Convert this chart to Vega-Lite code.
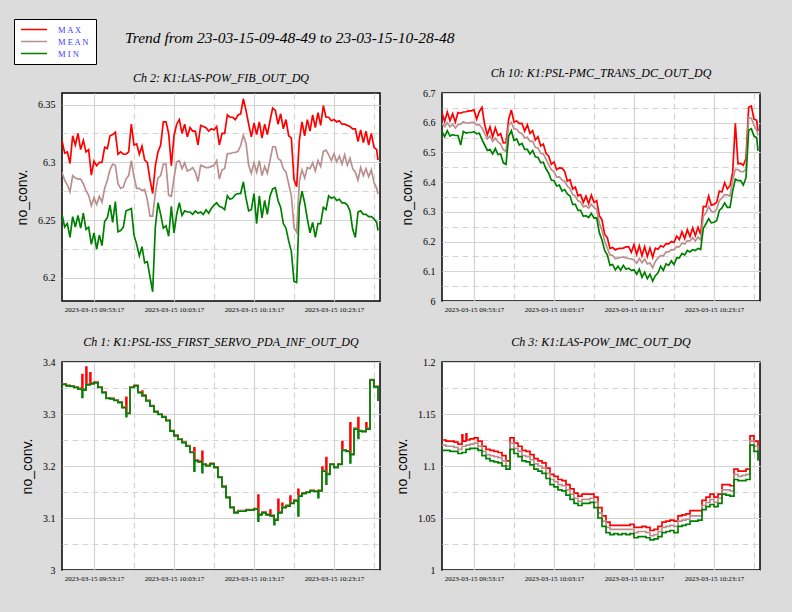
{
  "$schema": "https://vega.github.io/schema/vega-lite/v6.json",
  "background": "#dcdcdc",
  "padding": {"left": 13, "top": 18, "right": 32, "bottom": 47},
  "title": {
    "text": "Trend from 23-03-15-09-48-49 to 23-03-15-10-28-48",
    "fontSize": 15.5,
    "anchor": "start",
    "frame": "group",
    "dx": 63,
    "dy": 28,
    "offset": 0
  },
  "columns": 2,
  "spacing": {"row": 61, "column": 62},
  "bounds": "flush",
  "datasets": {
    "p1": [
      {"t":"2023-03-15T09:49:17","MAX":6.319,"MEAN":6.2915,"MIN":6.255},
      {"t":"2023-03-15T09:49:37","MAX":6.308,"MEAN":6.2845,"MIN":6.244},
      {"t":"2023-03-15T09:49:57","MAX":6.309,"MEAN":6.2805,"MIN":6.247},
      {"t":"2023-03-15T09:50:17","MAX":6.299,"MEAN":6.2745,"MIN":6.235},
      {"t":"2023-03-15T09:50:37","MAX":6.323,"MEAN":6.2885,"MIN":6.253},
      {"t":"2023-03-15T09:50:57","MAX":6.315,"MEAN":6.2865,"MIN":6.244},
      {"t":"2023-03-15T09:51:17","MAX":6.325,"MEAN":6.2855,"MIN":6.254},
      {"t":"2023-03-15T09:51:37","MAX":6.311,"MEAN":6.2855,"MIN":6.243},
      {"t":"2023-03-15T09:51:57","MAX":6.319,"MEAN":6.2815,"MIN":6.256},
      {"t":"2023-03-15T09:52:17","MAX":6.309,"MEAN":6.2755,"MIN":6.242},
      {"t":"2023-03-15T09:52:37","MAX":6.311,"MEAN":6.2715,"MIN":6.244},
      {"t":"2023-03-15T09:52:57","MAX":6.289,"MEAN":6.2625,"MIN":6.229},
      {"t":"2023-03-15T09:53:17","MAX":6.301,"MEAN":6.2695,"MIN":6.239},
      {"t":"2023-03-15T09:53:37","MAX":6.297,"MEAN":6.2635,"MIN":6.225},
      {"t":"2023-03-15T09:53:57","MAX":6.300,"MEAN":6.2705,"MIN":6.237},
      {"t":"2023-03-15T09:54:17","MAX":6.300,"MEAN":6.2655,"MIN":6.228},
      {"t":"2023-03-15T09:54:37","MAX":6.313,"MEAN":6.2775,"MIN":6.249},
      {"t":"2023-03-15T09:54:57","MAX":6.312,"MEAN":6.2845,"MIN":6.252},
      {"t":"2023-03-15T09:55:17","MAX":6.323,"MEAN":6.2935,"MIN":6.263},
      {"t":"2023-03-15T09:55:37","MAX":6.324,"MEAN":6.2985,"MIN":6.248},
      {"t":"2023-03-15T09:55:57","MAX":6.326,"MEAN":6.2975,"MIN":6.266},
      {"t":"2023-03-15T09:56:17","MAX":6.307,"MEAN":6.2815,"MIN":6.240},
      {"t":"2023-03-15T09:56:37","MAX":6.309,"MEAN":6.2775,"MIN":6.241},
      {"t":"2023-03-15T09:56:57","MAX":6.307,"MEAN":6.2785,"MIN":6.244},
      {"t":"2023-03-15T09:57:17","MAX":6.307,"MEAN":6.2855,"MIN":6.258},
      {"t":"2023-03-15T09:57:37","MAX":6.309,"MEAN":6.2885,"MIN":6.259},
      {"t":"2023-03-15T09:57:57","MAX":6.333,"MEAN":6.3015,"MIN":6.260},
      {"t":"2023-03-15T09:58:17","MAX":6.315,"MEAN":6.2875,"MIN":6.237},
      {"t":"2023-03-15T09:58:37","MAX":6.316,"MEAN":6.2775,"MIN":6.229},
      {"t":"2023-03-15T09:58:57","MAX":6.307,"MEAN":6.2775,"MIN":6.219},
      {"t":"2023-03-15T09:59:17","MAX":6.314,"MEAN":6.2755,"MIN":6.227},
      {"t":"2023-03-15T09:59:37","MAX":6.302,"MEAN":6.2765,"MIN":6.213},
      {"t":"2023-03-15T09:59:57","MAX":6.300,"MEAN":6.2675,"MIN":6.214},
      {"t":"2023-03-15T10:00:17","MAX":6.285,"MEAN":6.2535,"MIN":6.201},
      {"t":"2023-03-15T10:00:37","MAX":6.273,"MEAN":6.2535,"MIN":6.188},
      {"t":"2023-03-15T10:00:57","MAX":6.297,"MEAN":6.2735,"MIN":6.244},
      {"t":"2023-03-15T10:01:17","MAX":6.309,"MEAN":6.2865,"MIN":6.265},
      {"t":"2023-03-15T10:01:37","MAX":6.315,"MEAN":6.2885,"MIN":6.255},
      {"t":"2023-03-15T10:01:57","MAX":6.335,"MEAN":6.2985,"MIN":6.243},
      {"t":"2023-03-15T10:02:17","MAX":6.335,"MEAN":6.2985,"MIN":6.245},
      {"t":"2023-03-15T10:02:37","MAX":6.325,"MEAN":6.2715,"MIN":6.236},
      {"t":"2023-03-15T10:02:57","MAX":6.297,"MEAN":6.2705,"MIN":6.262},
      {"t":"2023-03-15T10:03:17","MAX":6.323,"MEAN":6.2865,"MIN":6.239},
      {"t":"2023-03-15T10:03:37","MAX":6.333,"MEAN":6.3005,"MIN":6.255},
      {"t":"2023-03-15T10:03:57","MAX":6.337,"MEAN":6.3015,"MIN":6.265},
      {"t":"2023-03-15T10:04:17","MAX":6.325,"MEAN":6.2945,"MIN":6.254},
      {"t":"2023-03-15T10:04:37","MAX":6.333,"MEAN":6.2995,"MIN":6.258},
      {"t":"2023-03-15T10:04:57","MAX":6.322,"MEAN":6.2925,"MIN":6.257},
      {"t":"2023-03-15T10:05:17","MAX":6.330,"MEAN":6.2935,"MIN":6.257},
      {"t":"2023-03-15T10:05:37","MAX":6.327,"MEAN":6.2955,"MIN":6.255},
      {"t":"2023-03-15T10:05:57","MAX":6.327,"MEAN":6.2915,"MIN":6.258},
      {"t":"2023-03-15T10:06:17","MAX":6.315,"MEAN":6.2835,"MIN":6.256},
      {"t":"2023-03-15T10:06:37","MAX":6.332,"MEAN":6.2975,"MIN":6.257},
      {"t":"2023-03-15T10:06:57","MAX":6.331,"MEAN":6.2965,"MIN":6.255},
      {"t":"2023-03-15T10:07:17","MAX":6.330,"MEAN":6.2955,"MIN":6.259},
      {"t":"2023-03-15T10:07:37","MAX":6.327,"MEAN":6.2955,"MIN":6.256},
      {"t":"2023-03-15T10:07:57","MAX":6.329,"MEAN":6.2965,"MIN":6.260},
      {"t":"2023-03-15T10:08:17","MAX":6.328,"MEAN":6.2975,"MIN":6.263},
      {"t":"2023-03-15T10:08:37","MAX":6.331,"MEAN":6.3015,"MIN":6.265},
      {"t":"2023-03-15T10:08:57","MAX":6.315,"MEAN":6.2855,"MIN":6.262},
      {"t":"2023-03-15T10:09:17","MAX":6.325,"MEAN":6.2935,"MIN":6.261},
      {"t":"2023-03-15T10:09:37","MAX":6.325,"MEAN":6.2945,"MIN":6.259},
      {"t":"2023-03-15T10:09:57","MAX":6.341,"MEAN":6.3075,"MIN":6.271},
      {"t":"2023-03-15T10:10:17","MAX":6.339,"MEAN":6.3075,"MIN":6.268},
      {"t":"2023-03-15T10:10:37","MAX":6.339,"MEAN":6.3085,"MIN":6.269},
      {"t":"2023-03-15T10:10:57","MAX":6.337,"MEAN":6.3085,"MIN":6.272},
      {"t":"2023-03-15T10:11:17","MAX":6.341,"MEAN":6.3095,"MIN":6.273},
      {"t":"2023-03-15T10:11:37","MAX":6.342,"MEAN":6.3145,"MIN":6.273},
      {"t":"2023-03-15T10:11:57","MAX":6.355,"MEAN":6.3235,"MIN":6.283},
      {"t":"2023-03-15T10:12:17","MAX":6.345,"MEAN":6.3165,"MIN":6.269},
      {"t":"2023-03-15T10:12:37","MAX":6.333,"MEAN":6.2975,"MIN":6.258},
      {"t":"2023-03-15T10:12:57","MAX":6.322,"MEAN":6.2905,"MIN":6.259},
      {"t":"2023-03-15T10:13:17","MAX":6.334,"MEAN":6.2995,"MIN":6.273},
      {"t":"2023-03-15T10:13:37","MAX":6.324,"MEAN":6.2915,"MIN":6.247},
      {"t":"2023-03-15T10:13:57","MAX":6.335,"MEAN":6.3015,"MIN":6.271},
      {"t":"2023-03-15T10:14:17","MAX":6.321,"MEAN":6.2885,"MIN":6.252},
      {"t":"2023-03-15T10:14:37","MAX":6.333,"MEAN":6.2965,"MIN":6.267},
      {"t":"2023-03-15T10:14:57","MAX":6.324,"MEAN":6.2905,"MIN":6.255},
      {"t":"2023-03-15T10:15:17","MAX":6.336,"MEAN":6.3015,"MIN":6.271},
      {"t":"2023-03-15T10:15:37","MAX":6.347,"MEAN":6.3135,"MIN":6.277},
      {"t":"2023-03-15T10:15:57","MAX":6.345,"MEAN":6.3135,"MIN":6.278},
      {"t":"2023-03-15T10:16:17","MAX":6.333,"MEAN":6.3035,"MIN":6.267},
      {"t":"2023-03-15T10:16:37","MAX":6.342,"MEAN":6.3015,"MIN":6.261},
      {"t":"2023-03-15T10:16:57","MAX":6.329,"MEAN":6.2945,"MIN":6.247},
      {"t":"2023-03-15T10:17:17","MAX":6.337,"MEAN":6.2915,"MIN":6.243},
      {"t":"2023-03-15T10:17:37","MAX":6.323,"MEAN":6.2815,"MIN":6.232},
      {"t":"2023-03-15T10:17:57","MAX":6.321,"MEAN":6.2715,"MIN":6.223},
      {"t":"2023-03-15T10:18:17","MAX":6.285,"MEAN":6.2435,"MIN":6.197},
      {"t":"2023-03-15T10:18:37","MAX":6.279,"MEAN":6.2395,"MIN":6.196},
      {"t":"2023-03-15T10:18:57","MAX":6.319,"MEAN":6.2835,"MIN":6.262},
      {"t":"2023-03-15T10:19:17","MAX":6.335,"MEAN":6.2935,"MIN":6.275},
      {"t":"2023-03-15T10:19:37","MAX":6.323,"MEAN":6.2865,"MIN":6.265},
      {"t":"2023-03-15T10:19:57","MAX":6.337,"MEAN":6.2955,"MIN":6.251},
      {"t":"2023-03-15T10:20:17","MAX":6.327,"MEAN":6.2945,"MIN":6.239},
      {"t":"2023-03-15T10:20:37","MAX":6.341,"MEAN":6.2995,"MIN":6.248},
      {"t":"2023-03-15T10:20:57","MAX":6.330,"MEAN":6.2925,"MIN":6.235},
      {"t":"2023-03-15T10:21:17","MAX":6.343,"MEAN":6.3015,"MIN":6.247},
      {"t":"2023-03-15T10:21:37","MAX":6.332,"MEAN":6.2965,"MIN":6.247},
      {"t":"2023-03-15T10:21:57","MAX":6.349,"MEAN":6.3095,"MIN":6.261},
      {"t":"2023-03-15T10:22:17","MAX":6.339,"MEAN":6.3105,"MIN":6.259},
      {"t":"2023-03-15T10:22:37","MAX":6.339,"MEAN":6.3065,"MIN":6.271},
      {"t":"2023-03-15T10:22:57","MAX":6.336,"MEAN":6.3015,"MIN":6.269},
      {"t":"2023-03-15T10:23:17","MAX":6.337,"MEAN":6.3075,"MIN":6.270},
      {"t":"2023-03-15T10:23:37","MAX":6.335,"MEAN":6.3005,"MIN":6.267},
      {"t":"2023-03-15T10:23:57","MAX":6.336,"MEAN":6.3055,"MIN":6.268},
      {"t":"2023-03-15T10:24:17","MAX":6.333,"MEAN":6.2985,"MIN":6.265},
      {"t":"2023-03-15T10:24:37","MAX":6.333,"MEAN":6.3065,"MIN":6.265},
      {"t":"2023-03-15T10:24:57","MAX":6.332,"MEAN":6.2975,"MIN":6.263},
      {"t":"2023-03-15T10:25:17","MAX":6.331,"MEAN":6.3035,"MIN":6.258},
      {"t":"2023-03-15T10:25:37","MAX":6.329,"MEAN":6.2945,"MIN":6.242},
      {"t":"2023-03-15T10:25:57","MAX":6.329,"MEAN":6.2915,"MIN":6.235},
      {"t":"2023-03-15T10:26:17","MAX":6.318,"MEAN":6.2845,"MIN":6.257},
      {"t":"2023-03-15T10:26:37","MAX":6.328,"MEAN":6.2955,"MIN":6.258},
      {"t":"2023-03-15T10:26:57","MAX":6.317,"MEAN":6.2885,"MIN":6.255},
      {"t":"2023-03-15T10:27:17","MAX":6.327,"MEAN":6.2945,"MIN":6.255},
      {"t":"2023-03-15T10:27:37","MAX":6.315,"MEAN":6.2875,"MIN":6.253},
      {"t":"2023-03-15T10:27:57","MAX":6.325,"MEAN":6.2935,"MIN":6.253},
      {"t":"2023-03-15T10:28:17","MAX":6.313,"MEAN":6.2825,"MIN":6.251},
      {"t":"2023-03-15T10:28:37","MAX":6.311,"MEAN":6.2775,"MIN":6.248},
      {"t":"2023-03-15T10:28:47","MAX":6.302,"MEAN":6.2725,"MIN":6.241}
    ],
    "p2": [
      {"t":"2023-03-15T09:49:17","MAX":6.633,"MEAN":6.598,"MIN":6.570},
      {"t":"2023-03-15T09:49:37","MAX":6.604,"MEAN":6.587,"MIN":6.553},
      {"t":"2023-03-15T09:49:57","MAX":6.636,"MEAN":6.600,"MIN":6.573},
      {"t":"2023-03-15T09:50:17","MAX":6.607,"MEAN":6.586,"MIN":6.555},
      {"t":"2023-03-15T09:50:37","MAX":6.630,"MEAN":6.595,"MIN":6.560},
      {"t":"2023-03-15T09:50:57","MAX":6.602,"MEAN":6.582,"MIN":6.557},
      {"t":"2023-03-15T09:51:17","MAX":6.634,"MEAN":6.593,"MIN":6.557},
      {"t":"2023-03-15T09:51:37","MAX":6.632,"MEAN":6.595,"MIN":6.525},
      {"t":"2023-03-15T09:51:57","MAX":6.636,"MEAN":6.603,"MIN":6.571},
      {"t":"2023-03-15T09:52:17","MAX":6.637,"MEAN":6.599,"MIN":6.565},
      {"t":"2023-03-15T09:52:37","MAX":6.640,"MEAN":6.599,"MIN":6.567},
      {"t":"2023-03-15T09:52:57","MAX":6.640,"MEAN":6.601,"MIN":6.567},
      {"t":"2023-03-15T09:53:17","MAX":6.643,"MEAN":6.601,"MIN":6.570},
      {"t":"2023-03-15T09:53:37","MAX":6.612,"MEAN":6.593,"MIN":6.563},
      {"t":"2023-03-15T09:53:57","MAX":6.638,"MEAN":6.593,"MIN":6.565},
      {"t":"2023-03-15T09:54:17","MAX":6.652,"MEAN":6.582,"MIN":6.543},
      {"t":"2023-03-15T09:54:37","MAX":6.593,"MEAN":6.563,"MIN":6.525},
      {"t":"2023-03-15T09:54:57","MAX":6.560,"MEAN":6.545,"MIN":6.507},
      {"t":"2023-03-15T09:55:17","MAX":6.586,"MEAN":6.555,"MIN":6.510},
      {"t":"2023-03-15T09:55:37","MAX":6.552,"MEAN":6.537,"MIN":6.495},
      {"t":"2023-03-15T09:55:57","MAX":6.583,"MEAN":6.548,"MIN":6.513},
      {"t":"2023-03-15T09:56:17","MAX":6.557,"MEAN":6.535,"MIN":6.493},
      {"t":"2023-03-15T09:56:37","MAX":6.563,"MEAN":6.528,"MIN":6.495},
      {"t":"2023-03-15T09:56:57","MAX":6.532,"MEAN":6.509,"MIN":6.465},
      {"t":"2023-03-15T09:57:17","MAX":6.533,"MEAN":6.503,"MIN":6.460},
      {"t":"2023-03-15T09:57:37","MAX":6.612,"MEAN":6.592,"MIN":6.555},
      {"t":"2023-03-15T09:57:57","MAX":6.643,"MEAN":6.601,"MIN":6.573},
      {"t":"2023-03-15T09:58:17","MAX":6.602,"MEAN":6.579,"MIN":6.540},
      {"t":"2023-03-15T09:58:37","MAX":6.606,"MEAN":6.578,"MIN":6.545},
      {"t":"2023-03-15T09:58:57","MAX":6.597,"MEAN":6.567,"MIN":6.525},
      {"t":"2023-03-15T09:59:17","MAX":6.598,"MEAN":6.563,"MIN":6.530},
      {"t":"2023-03-15T09:59:37","MAX":6.572,"MEAN":6.549,"MIN":6.510},
      {"t":"2023-03-15T09:59:57","MAX":6.593,"MEAN":6.551,"MIN":6.510},
      {"t":"2023-03-15T10:00:17","MAX":6.564,"MEAN":6.537,"MIN":6.495},
      {"t":"2023-03-15T10:00:37","MAX":6.573,"MEAN":6.538,"MIN":6.507},
      {"t":"2023-03-15T10:00:57","MAX":6.542,"MEAN":6.517,"MIN":6.485},
      {"t":"2023-03-15T10:01:17","MAX":6.553,"MEAN":6.515,"MIN":6.483},
      {"t":"2023-03-15T10:01:37","MAX":6.522,"MEAN":6.497,"MIN":6.465},
      {"t":"2023-03-15T10:01:57","MAX":6.528,"MEAN":6.495,"MIN":6.467},
      {"t":"2023-03-15T10:02:17","MAX":6.497,"MEAN":6.477,"MIN":6.445},
      {"t":"2023-03-15T10:02:37","MAX":6.488,"MEAN":6.458,"MIN":6.430},
      {"t":"2023-03-15T10:02:57","MAX":6.460,"MEAN":6.442,"MIN":6.407},
      {"t":"2023-03-15T10:03:17","MAX":6.468,"MEAN":6.435,"MIN":6.405},
      {"t":"2023-03-15T10:03:37","MAX":6.442,"MEAN":6.417,"MIN":6.387},
      {"t":"2023-03-15T10:03:57","MAX":6.448,"MEAN":6.418,"MIN":6.390},
      {"t":"2023-03-15T10:04:17","MAX":6.447,"MEAN":6.407,"MIN":6.370},
      {"t":"2023-03-15T10:04:37","MAX":6.436,"MEAN":6.403,"MIN":6.375},
      {"t":"2023-03-15T10:04:57","MAX":6.404,"MEAN":6.387,"MIN":6.360},
      {"t":"2023-03-15T10:05:17","MAX":6.408,"MEAN":6.378,"MIN":6.353},
      {"t":"2023-03-15T10:05:37","MAX":6.377,"MEAN":6.359,"MIN":6.325},
      {"t":"2023-03-15T10:05:57","MAX":6.383,"MEAN":6.353,"MIN":6.325},
      {"t":"2023-03-15T10:06:17","MAX":6.354,"MEAN":6.337,"MIN":6.305},
      {"t":"2023-03-15T10:06:37","MAX":6.358,"MEAN":6.333,"MIN":6.305},
      {"t":"2023-03-15T10:06:57","MAX":6.332,"MEAN":6.317,"MIN":6.285},
      {"t":"2023-03-15T10:07:17","MAX":6.353,"MEAN":6.321,"MIN":6.287},
      {"t":"2023-03-15T10:07:37","MAX":6.327,"MEAN":6.312,"MIN":6.281},
      {"t":"2023-03-15T10:07:57","MAX":6.356,"MEAN":6.325,"MIN":6.295},
      {"t":"2023-03-15T10:08:17","MAX":6.332,"MEAN":6.315,"MIN":6.279},
      {"t":"2023-03-15T10:08:37","MAX":6.338,"MEAN":6.308,"MIN":6.280},
      {"t":"2023-03-15T10:08:57","MAX":6.287,"MEAN":6.262,"MIN":6.230},
      {"t":"2023-03-15T10:09:17","MAX":6.273,"MEAN":6.238,"MIN":6.205},
      {"t":"2023-03-15T10:09:37","MAX":6.224,"MEAN":6.202,"MIN":6.170},
      {"t":"2023-03-15T10:09:57","MAX":6.213,"MEAN":6.178,"MIN":6.155},
      {"t":"2023-03-15T10:10:17","MAX":6.177,"MEAN":6.155,"MIN":6.120},
      {"t":"2023-03-15T10:10:37","MAX":6.180,"MEAN":6.153,"MIN":6.123},
      {"t":"2023-03-15T10:10:57","MAX":6.172,"MEAN":6.142,"MIN":6.105},
      {"t":"2023-03-15T10:11:17","MAX":6.176,"MEAN":6.145,"MIN":6.117},
      {"t":"2023-03-15T10:11:37","MAX":6.177,"MEAN":6.147,"MIN":6.103},
      {"t":"2023-03-15T10:11:57","MAX":6.178,"MEAN":6.148,"MIN":6.120},
      {"t":"2023-03-15T10:12:17","MAX":6.182,"MEAN":6.145,"MIN":6.107},
      {"t":"2023-03-15T10:12:37","MAX":6.183,"MEAN":6.143,"MIN":6.110},
      {"t":"2023-03-15T10:12:57","MAX":6.164,"MEAN":6.142,"MIN":6.103},
      {"t":"2023-03-15T10:13:17","MAX":6.190,"MEAN":6.138,"MIN":6.105},
      {"t":"2023-03-15T10:13:37","MAX":6.157,"MEAN":6.127,"MIN":6.090},
      {"t":"2023-03-15T10:13:57","MAX":6.186,"MEAN":6.143,"MIN":6.107},
      {"t":"2023-03-15T10:14:17","MAX":6.152,"MEAN":6.129,"MIN":6.080},
      {"t":"2023-03-15T10:14:37","MAX":6.183,"MEAN":6.141,"MIN":6.097},
      {"t":"2023-03-15T10:14:57","MAX":6.150,"MEAN":6.125,"MIN":6.075},
      {"t":"2023-03-15T10:15:17","MAX":6.178,"MEAN":6.128,"MIN":6.090},
      {"t":"2023-03-15T10:15:37","MAX":6.147,"MEAN":6.112,"MIN":6.067},
      {"t":"2023-03-15T10:15:57","MAX":6.178,"MEAN":6.133,"MIN":6.085},
      {"t":"2023-03-15T10:16:17","MAX":6.174,"MEAN":6.145,"MIN":6.095},
      {"t":"2023-03-15T10:16:37","MAX":6.186,"MEAN":6.153,"MIN":6.117},
      {"t":"2023-03-15T10:16:57","MAX":6.182,"MEAN":6.152,"MIN":6.103},
      {"t":"2023-03-15T10:17:17","MAX":6.193,"MEAN":6.165,"MIN":6.125},
      {"t":"2023-03-15T10:17:37","MAX":6.192,"MEAN":6.165,"MIN":6.120},
      {"t":"2023-03-15T10:17:57","MAX":6.200,"MEAN":6.173,"MIN":6.135},
      {"t":"2023-03-15T10:18:17","MAX":6.197,"MEAN":6.172,"MIN":6.123},
      {"t":"2023-03-15T10:18:37","MAX":6.218,"MEAN":6.183,"MIN":6.145},
      {"t":"2023-03-15T10:18:57","MAX":6.207,"MEAN":6.182,"MIN":6.145},
      {"t":"2023-03-15T10:19:17","MAX":6.233,"MEAN":6.195,"MIN":6.160},
      {"t":"2023-03-15T10:19:37","MAX":6.210,"MEAN":6.192,"MIN":6.155},
      {"t":"2023-03-15T10:19:57","MAX":6.240,"MEAN":6.203,"MIN":6.170},
      {"t":"2023-03-15T10:20:17","MAX":6.217,"MEAN":6.202,"MIN":6.165},
      {"t":"2023-03-15T10:20:37","MAX":6.246,"MEAN":6.213,"MIN":6.173},
      {"t":"2023-03-15T10:20:57","MAX":6.220,"MEAN":6.202,"MIN":6.170},
      {"t":"2023-03-15T10:21:17","MAX":6.248,"MEAN":6.215,"MIN":6.177},
      {"t":"2023-03-15T10:21:37","MAX":6.224,"MEAN":6.205,"MIN":6.173},
      {"t":"2023-03-15T10:21:57","MAX":6.318,"MEAN":6.285,"MIN":6.245},
      {"t":"2023-03-15T10:22:17","MAX":6.317,"MEAN":6.297,"MIN":6.260},
      {"t":"2023-03-15T10:22:37","MAX":6.353,"MEAN":6.318,"MIN":6.277},
      {"t":"2023-03-15T10:22:57","MAX":6.322,"MEAN":6.302,"MIN":6.263},
      {"t":"2023-03-15T10:23:17","MAX":6.326,"MEAN":6.298,"MIN":6.265},
      {"t":"2023-03-15T10:23:37","MAX":6.332,"MEAN":6.309,"MIN":6.270},
      {"t":"2023-03-15T10:23:57","MAX":6.370,"MEAN":6.338,"MIN":6.305},
      {"t":"2023-03-15T10:24:17","MAX":6.367,"MEAN":6.347,"MIN":6.313},
      {"t":"2023-03-15T10:24:37","MAX":6.398,"MEAN":6.358,"MIN":6.330},
      {"t":"2023-03-15T10:24:57","MAX":6.377,"MEAN":6.357,"MIN":6.315},
      {"t":"2023-03-15T10:25:17","MAX":6.388,"MEAN":6.353,"MIN":6.315},
      {"t":"2023-03-15T10:25:37","MAX":6.432,"MEAN":6.407,"MIN":6.370},
      {"t":"2023-03-15T10:25:57","MAX":6.598,"MEAN":6.443,"MIN":6.410},
      {"t":"2023-03-15T10:26:17","MAX":6.462,"MEAN":6.442,"MIN":6.405},
      {"t":"2023-03-15T10:26:37","MAX":6.463,"MEAN":6.435,"MIN":6.405},
      {"t":"2023-03-15T10:26:57","MAX":6.457,"MEAN":6.435,"MIN":6.390},
      {"t":"2023-03-15T10:27:17","MAX":6.480,"MEAN":6.443,"MIN":6.415},
      {"t":"2023-03-15T10:27:37","MAX":6.652,"MEAN":6.617,"MIN":6.575},
      {"t":"2023-03-15T10:27:57","MAX":6.656,"MEAN":6.615,"MIN":6.580},
      {"t":"2023-03-15T10:28:17","MAX":6.612,"MEAN":6.592,"MIN":6.555},
      {"t":"2023-03-15T10:28:37","MAX":6.608,"MEAN":6.575,"MIN":6.550},
      {"t":"2023-03-15T10:28:47","MAX":6.572,"MEAN":6.557,"MIN":6.505}
    ],
    "p3": [
      {"t":"2023-03-15T09:49:17","MAX":3.3582,"MEAN":3.3576,"MIN":3.357},
      {"t":"2023-03-15T09:49:47","MAX":3.3552,"MEAN":3.3546,"MIN":3.354},
      {"t":"2023-03-15T09:50:17","MAX":3.3542,"MEAN":3.3536,"MIN":3.353},
      {"t":"2023-03-15T09:50:47","MAX":3.3522,"MEAN":3.3516,"MIN":3.351},
      {"t":"2023-03-15T09:51:17","MAX":3.3492,"MEAN":3.3486,"MIN":3.348},
      {"t":"2023-03-15T09:51:47","MAX":3.376,"MEAN":3.3466,"MIN":3.332},
      {"t":"2023-03-15T09:51:53","MAX":3.3472,"MEAN":3.3466,"MIN":3.346},
      {"t":"2023-03-15T09:52:17","MAX":3.390,"MEAN":3.3566,"MIN":3.356},
      {"t":"2023-03-15T09:52:23","MAX":3.3572,"MEAN":3.3566,"MIN":3.356},
      {"t":"2023-03-15T09:52:47","MAX":3.379,"MEAN":3.3586,"MIN":3.358},
      {"t":"2023-03-15T09:52:53","MAX":3.3592,"MEAN":3.3586,"MIN":3.358},
      {"t":"2023-03-15T09:53:17","MAX":3.3612,"MEAN":3.3606,"MIN":3.360},
      {"t":"2023-03-15T09:53:47","MAX":3.3522,"MEAN":3.3516,"MIN":3.351},
      {"t":"2023-03-15T09:54:17","MAX":3.3422,"MEAN":3.3416,"MIN":3.341},
      {"t":"2023-03-15T09:54:47","MAX":3.3312,"MEAN":3.3306,"MIN":3.330},
      {"t":"2023-03-15T09:55:17","MAX":3.3302,"MEAN":3.3296,"MIN":3.329},
      {"t":"2023-03-15T09:55:47","MAX":3.3272,"MEAN":3.3266,"MIN":3.326},
      {"t":"2023-03-15T09:56:17","MAX":3.3232,"MEAN":3.3226,"MIN":3.322},
      {"t":"2023-03-15T09:56:47","MAX":3.3132,"MEAN":3.3126,"MIN":3.312},
      {"t":"2023-03-15T09:57:17","MAX":3.332,"MEAN":3.3016,"MIN":3.295},
      {"t":"2023-03-15T09:57:23","MAX":3.3022,"MEAN":3.3016,"MIN":3.301},
      {"t":"2023-03-15T09:57:47","MAX":3.3522,"MEAN":3.3516,"MIN":3.351},
      {"t":"2023-03-15T09:58:17","MAX":3.3552,"MEAN":3.3546,"MIN":3.354},
      {"t":"2023-03-15T09:58:47","MAX":3.3422,"MEAN":3.3416,"MIN":3.341},
      {"t":"2023-03-15T09:59:17","MAX":3.344,"MEAN":3.3356,"MIN":3.335},
      {"t":"2023-03-15T09:59:23","MAX":3.3362,"MEAN":3.3356,"MIN":3.335},
      {"t":"2023-03-15T09:59:47","MAX":3.3262,"MEAN":3.3256,"MIN":3.325},
      {"t":"2023-03-15T10:00:17","MAX":3.3162,"MEAN":3.3156,"MIN":3.315},
      {"t":"2023-03-15T10:00:47","MAX":3.3052,"MEAN":3.3046,"MIN":3.304},
      {"t":"2023-03-15T10:01:17","MAX":3.3002,"MEAN":3.2996,"MIN":3.299},
      {"t":"2023-03-15T10:01:47","MAX":3.2952,"MEAN":3.2946,"MIN":3.294},
      {"t":"2023-03-15T10:02:17","MAX":3.2882,"MEAN":3.2876,"MIN":3.287},
      {"t":"2023-03-15T10:02:47","MAX":3.2682,"MEAN":3.2676,"MIN":3.267},
      {"t":"2023-03-15T10:03:17","MAX":3.2592,"MEAN":3.2586,"MIN":3.258},
      {"t":"2023-03-15T10:03:47","MAX":3.2522,"MEAN":3.2516,"MIN":3.251},
      {"t":"2023-03-15T10:04:17","MAX":3.2462,"MEAN":3.2456,"MIN":3.245},
      {"t":"2023-03-15T10:04:47","MAX":3.2392,"MEAN":3.2386,"MIN":3.238},
      {"t":"2023-03-15T10:05:17","MAX":3.2272,"MEAN":3.2266,"MIN":3.226},
      {"t":"2023-03-15T10:05:47","MAX":3.235,"MEAN":3.2106,"MIN":3.190},
      {"t":"2023-03-15T10:05:53","MAX":3.2112,"MEAN":3.2106,"MIN":3.210},
      {"t":"2023-03-15T10:06:17","MAX":3.2092,"MEAN":3.2086,"MIN":3.208},
      {"t":"2023-03-15T10:06:47","MAX":3.228,"MEAN":3.2036,"MIN":3.187},
      {"t":"2023-03-15T10:06:53","MAX":3.2042,"MEAN":3.2036,"MIN":3.203},
      {"t":"2023-03-15T10:07:17","MAX":3.2012,"MEAN":3.2006,"MIN":3.200},
      {"t":"2023-03-15T10:07:47","MAX":3.2052,"MEAN":3.2046,"MIN":3.204},
      {"t":"2023-03-15T10:08:17","MAX":3.1982,"MEAN":3.1976,"MIN":3.197},
      {"t":"2023-03-15T10:08:47","MAX":3.1792,"MEAN":3.1786,"MIN":3.178},
      {"t":"2023-03-15T10:09:17","MAX":3.1612,"MEAN":3.1606,"MIN":3.160},
      {"t":"2023-03-15T10:09:47","MAX":3.1402,"MEAN":3.1396,"MIN":3.139},
      {"t":"2023-03-15T10:10:17","MAX":3.1212,"MEAN":3.1206,"MIN":3.120},
      {"t":"2023-03-15T10:10:47","MAX":3.1112,"MEAN":3.1106,"MIN":3.110},
      {"t":"2023-03-15T10:11:17","MAX":3.1142,"MEAN":3.1136,"MIN":3.113},
      {"t":"2023-03-15T10:11:47","MAX":3.1142,"MEAN":3.1136,"MIN":3.113},
      {"t":"2023-03-15T10:12:17","MAX":3.1162,"MEAN":3.1156,"MIN":3.115},
      {"t":"2023-03-15T10:12:47","MAX":3.1162,"MEAN":3.1156,"MIN":3.115},
      {"t":"2023-03-15T10:13:17","MAX":3.1182,"MEAN":3.1176,"MIN":3.117},
      {"t":"2023-03-15T10:13:47","MAX":3.144,"MEAN":3.1066,"MIN":3.094},
      {"t":"2023-03-15T10:13:53","MAX":3.1072,"MEAN":3.1066,"MIN":3.106},
      {"t":"2023-03-15T10:14:17","MAX":3.1112,"MEAN":3.1106,"MIN":3.110},
      {"t":"2023-03-15T10:14:47","MAX":3.1072,"MEAN":3.1066,"MIN":3.106},
      {"t":"2023-03-15T10:15:17","MAX":3.115,"MEAN":3.1046,"MIN":3.104},
      {"t":"2023-03-15T10:15:23","MAX":3.1052,"MEAN":3.1046,"MIN":3.104},
      {"t":"2023-03-15T10:15:47","MAX":3.0972,"MEAN":3.0966,"MIN":3.087},
      {"t":"2023-03-15T10:15:53","MAX":3.0972,"MEAN":3.0966,"MIN":3.096},
      {"t":"2023-03-15T10:16:17","MAX":3.136,"MEAN":3.1106,"MIN":3.110},
      {"t":"2023-03-15T10:16:23","MAX":3.1112,"MEAN":3.1106,"MIN":3.110},
      {"t":"2023-03-15T10:16:47","MAX":3.128,"MEAN":3.1206,"MIN":3.120},
      {"t":"2023-03-15T10:16:53","MAX":3.1212,"MEAN":3.1206,"MIN":3.120},
      {"t":"2023-03-15T10:17:17","MAX":3.1242,"MEAN":3.1236,"MIN":3.123},
      {"t":"2023-03-15T10:17:47","MAX":3.142,"MEAN":3.1286,"MIN":3.128},
      {"t":"2023-03-15T10:17:53","MAX":3.1292,"MEAN":3.1286,"MIN":3.128},
      {"t":"2023-03-15T10:18:17","MAX":3.1342,"MEAN":3.1336,"MIN":3.133},
      {"t":"2023-03-15T10:18:47","MAX":3.155,"MEAN":3.1426,"MIN":3.104},
      {"t":"2023-03-15T10:18:53","MAX":3.1432,"MEAN":3.1426,"MIN":3.142},
      {"t":"2023-03-15T10:19:17","MAX":3.1482,"MEAN":3.1476,"MIN":3.147},
      {"t":"2023-03-15T10:19:47","MAX":3.1502,"MEAN":3.1496,"MIN":3.149},
      {"t":"2023-03-15T10:20:17","MAX":3.1532,"MEAN":3.1526,"MIN":3.152},
      {"t":"2023-03-15T10:20:47","MAX":3.1522,"MEAN":3.1516,"MIN":3.151},
      {"t":"2023-03-15T10:21:17","MAX":3.1532,"MEAN":3.1526,"MIN":3.139},
      {"t":"2023-03-15T10:21:23","MAX":3.1532,"MEAN":3.1526,"MIN":3.152},
      {"t":"2023-03-15T10:21:47","MAX":3.198,"MEAN":3.1906,"MIN":3.190},
      {"t":"2023-03-15T10:21:53","MAX":3.1912,"MEAN":3.1906,"MIN":3.190},
      {"t":"2023-03-15T10:22:17","MAX":3.216,"MEAN":3.1846,"MIN":3.165},
      {"t":"2023-03-15T10:22:23","MAX":3.1852,"MEAN":3.1846,"MIN":3.184},
      {"t":"2023-03-15T10:22:47","MAX":3.2042,"MEAN":3.2036,"MIN":3.203},
      {"t":"2023-03-15T10:23:17","MAX":3.1982,"MEAN":3.1976,"MIN":3.197},
      {"t":"2023-03-15T10:23:47","MAX":3.2042,"MEAN":3.2036,"MIN":3.203},
      {"t":"2023-03-15T10:24:17","MAX":3.247,"MEAN":3.2306,"MIN":3.230},
      {"t":"2023-03-15T10:24:23","MAX":3.2312,"MEAN":3.2306,"MIN":3.230},
      {"t":"2023-03-15T10:24:47","MAX":3.2292,"MEAN":3.2286,"MIN":3.228},
      {"t":"2023-03-15T10:25:17","MAX":3.283,"MEAN":3.2226,"MIN":3.206},
      {"t":"2023-03-15T10:25:23","MAX":3.2232,"MEAN":3.2226,"MIN":3.222},
      {"t":"2023-03-15T10:25:47","MAX":3.2722,"MEAN":3.2716,"MIN":3.271},
      {"t":"2023-03-15T10:26:17","MAX":3.293,"MEAN":3.2676,"MIN":3.253},
      {"t":"2023-03-15T10:26:23","MAX":3.2682,"MEAN":3.2676,"MIN":3.267},
      {"t":"2023-03-15T10:26:47","MAX":3.2672,"MEAN":3.2666,"MIN":3.266},
      {"t":"2023-03-15T10:27:17","MAX":3.283,"MEAN":3.2716,"MIN":3.271},
      {"t":"2023-03-15T10:27:23","MAX":3.2722,"MEAN":3.2716,"MIN":3.271},
      {"t":"2023-03-15T10:27:47","MAX":3.3662,"MEAN":3.3656,"MIN":3.365},
      {"t":"2023-03-15T10:28:17","MAX":3.3532,"MEAN":3.3526,"MIN":3.352},
      {"t":"2023-03-15T10:28:47","MAX":3.3262,"MEAN":3.3256,"MIN":3.325}
    ],
    "p4": [
      {"t":"2023-03-15T09:49:17","MAX":1.125,"MEAN":1.120,"MIN":1.115},
      {"t":"2023-03-15T09:49:47","MAX":1.124,"MEAN":1.119,"MIN":1.115},
      {"t":"2023-03-15T09:50:17","MAX":1.124,"MEAN":1.119,"MIN":1.114},
      {"t":"2023-03-15T09:50:47","MAX":1.123,"MEAN":1.118,"MIN":1.114},
      {"t":"2023-03-15T09:51:17","MAX":1.121,"MEAN":1.116,"MIN":1.112},
      {"t":"2023-03-15T09:51:47","MAX":1.130,"MEAN":1.119,"MIN":1.113},
      {"t":"2023-03-15T09:51:53","MAX":1.124,"MEAN":1.119,"MIN":1.113},
      {"t":"2023-03-15T09:52:17","MAX":1.131,"MEAN":1.120,"MIN":1.116},
      {"t":"2023-03-15T09:52:23","MAX":1.125,"MEAN":1.120,"MIN":1.116},
      {"t":"2023-03-15T09:52:47","MAX":1.126,"MEAN":1.121,"MIN":1.117},
      {"t":"2023-03-15T09:53:17","MAX":1.127,"MEAN":1.122,"MIN":1.117},
      {"t":"2023-03-15T09:53:47","MAX":1.124,"MEAN":1.119,"MIN":1.115},
      {"t":"2023-03-15T09:54:17","MAX":1.119,"MEAN":1.114,"MIN":1.110},
      {"t":"2023-03-15T09:54:47","MAX":1.116,"MEAN":1.111,"MIN":1.107},
      {"t":"2023-03-15T09:55:17","MAX":1.115,"MEAN":1.110,"MIN":1.105},
      {"t":"2023-03-15T09:55:47","MAX":1.114,"MEAN":1.109,"MIN":1.104},
      {"t":"2023-03-15T09:56:17","MAX":1.113,"MEAN":1.108,"MIN":1.103},
      {"t":"2023-03-15T09:56:47","MAX":1.110,"MEAN":1.105,"MIN":1.100},
      {"t":"2023-03-15T09:57:17","MAX":1.105,"MEAN":1.100,"MIN":1.097},
      {"t":"2023-03-15T09:57:47","MAX":1.127,"MEAN":1.122,"MIN":1.116},
      {"t":"2023-03-15T09:58:17","MAX":1.122,"MEAN":1.117,"MIN":1.112},
      {"t":"2023-03-15T09:58:47","MAX":1.119,"MEAN":1.114,"MIN":1.109},
      {"t":"2023-03-15T09:59:17","MAX":1.115,"MEAN":1.110,"MIN":1.105},
      {"t":"2023-03-15T09:59:47","MAX":1.114,"MEAN":1.109,"MIN":1.104},
      {"t":"2023-03-15T10:00:17","MAX":1.111,"MEAN":1.106,"MIN":1.101},
      {"t":"2023-03-15T10:00:47","MAX":1.107,"MEAN":1.102,"MIN":1.097},
      {"t":"2023-03-15T10:01:17","MAX":1.105,"MEAN":1.100,"MIN":1.095},
      {"t":"2023-03-15T10:01:47","MAX":1.103,"MEAN":1.098,"MIN":1.093},
      {"t":"2023-03-15T10:02:17","MAX":1.098,"MEAN":1.093,"MIN":1.088},
      {"t":"2023-03-15T10:02:47","MAX":1.092,"MEAN":1.087,"MIN":1.082},
      {"t":"2023-03-15T10:03:17","MAX":1.090,"MEAN":1.085,"MIN":1.080},
      {"t":"2023-03-15T10:03:47","MAX":1.087,"MEAN":1.082,"MIN":1.077},
      {"t":"2023-03-15T10:04:17","MAX":1.086,"MEAN":1.081,"MIN":1.076},
      {"t":"2023-03-15T10:04:47","MAX":1.082,"MEAN":1.077,"MIN":1.072},
      {"t":"2023-03-15T10:05:17","MAX":1.078,"MEAN":1.073,"MIN":1.068},
      {"t":"2023-03-15T10:05:47","MAX":1.074,"MEAN":1.069,"MIN":1.064},
      {"t":"2023-03-15T10:06:17","MAX":1.071,"MEAN":1.066,"MIN":1.062},
      {"t":"2023-03-15T10:06:47","MAX":1.073,"MEAN":1.068,"MIN":1.064},
      {"t":"2023-03-15T10:07:17","MAX":1.073,"MEAN":1.068,"MIN":1.064},
      {"t":"2023-03-15T10:07:47","MAX":1.073,"MEAN":1.069,"MIN":1.065},
      {"t":"2023-03-15T10:08:17","MAX":1.070,"MEAN":1.065,"MIN":1.060},
      {"t":"2023-03-15T10:08:47","MAX":1.060,"MEAN":1.055,"MIN":1.050},
      {"t":"2023-03-15T10:09:17","MAX":1.052,"MEAN":1.047,"MIN":1.042},
      {"t":"2023-03-15T10:09:47","MAX":1.046,"MEAN":1.041,"MIN":1.036},
      {"t":"2023-03-15T10:10:17","MAX":1.043,"MEAN":1.039,"MIN":1.034},
      {"t":"2023-03-15T10:10:47","MAX":1.043,"MEAN":1.039,"MIN":1.035},
      {"t":"2023-03-15T10:11:17","MAX":1.043,"MEAN":1.039,"MIN":1.034},
      {"t":"2023-03-15T10:11:47","MAX":1.043,"MEAN":1.039,"MIN":1.035},
      {"t":"2023-03-15T10:12:17","MAX":1.043,"MEAN":1.039,"MIN":1.034},
      {"t":"2023-03-15T10:12:47","MAX":1.044,"MEAN":1.039,"MIN":1.035},
      {"t":"2023-03-15T10:13:17","MAX":1.041,"MEAN":1.036,"MIN":1.031},
      {"t":"2023-03-15T10:13:47","MAX":1.041,"MEAN":1.037,"MIN":1.032},
      {"t":"2023-03-15T10:14:17","MAX":1.042,"MEAN":1.037,"MIN":1.032},
      {"t":"2023-03-15T10:14:47","MAX":1.041,"MEAN":1.036,"MIN":1.031},
      {"t":"2023-03-15T10:15:17","MAX":1.038,"MEAN":1.033,"MIN":1.029},
      {"t":"2023-03-15T10:15:47","MAX":1.039,"MEAN":1.034,"MIN":1.030},
      {"t":"2023-03-15T10:16:17","MAX":1.042,"MEAN":1.037,"MIN":1.032},
      {"t":"2023-03-15T10:16:47","MAX":1.046,"MEAN":1.041,"MIN":1.036},
      {"t":"2023-03-15T10:17:17","MAX":1.047,"MEAN":1.042,"MIN":1.037},
      {"t":"2023-03-15T10:17:47","MAX":1.048,"MEAN":1.043,"MIN":1.038},
      {"t":"2023-03-15T10:18:17","MAX":1.047,"MEAN":1.042,"MIN":1.036},
      {"t":"2023-03-15T10:18:47","MAX":1.052,"MEAN":1.047,"MIN":1.042},
      {"t":"2023-03-15T10:19:17","MAX":1.053,"MEAN":1.048,"MIN":1.043},
      {"t":"2023-03-15T10:19:47","MAX":1.054,"MEAN":1.049,"MIN":1.044},
      {"t":"2023-03-15T10:20:17","MAX":1.057,"MEAN":1.052,"MIN":1.047},
      {"t":"2023-03-15T10:20:47","MAX":1.057,"MEAN":1.052,"MIN":1.047},
      {"t":"2023-03-15T10:21:17","MAX":1.057,"MEAN":1.052,"MIN":1.048},
      {"t":"2023-03-15T10:21:47","MAX":1.067,"MEAN":1.062,"MIN":1.058},
      {"t":"2023-03-15T10:22:17","MAX":1.070,"MEAN":1.065,"MIN":1.061},
      {"t":"2023-03-15T10:22:47","MAX":1.073,"MEAN":1.068,"MIN":1.063},
      {"t":"2023-03-15T10:23:17","MAX":1.070,"MEAN":1.065,"MIN":1.061},
      {"t":"2023-03-15T10:23:47","MAX":1.073,"MEAN":1.069,"MIN":1.064},
      {"t":"2023-03-15T10:24:17","MAX":1.082,"MEAN":1.077,"MIN":1.073},
      {"t":"2023-03-15T10:24:47","MAX":1.082,"MEAN":1.077,"MIN":1.072},
      {"t":"2023-03-15T10:25:17","MAX":1.081,"MEAN":1.076,"MIN":1.071},
      {"t":"2023-03-15T10:25:47","MAX":1.097,"MEAN":1.092,"MIN":1.087},
      {"t":"2023-03-15T10:26:17","MAX":1.095,"MEAN":1.090,"MIN":1.086},
      {"t":"2023-03-15T10:26:47","MAX":1.095,"MEAN":1.091,"MIN":1.086},
      {"t":"2023-03-15T10:27:17","MAX":1.097,"MEAN":1.092,"MIN":1.087},
      {"t":"2023-03-15T10:27:47","MAX":1.129,"MEAN":1.124,"MIN":1.120},
      {"t":"2023-03-15T10:28:17","MAX":1.124,"MEAN":1.119,"MIN":1.114},
      {"t":"2023-03-15T10:28:47","MAX":1.111,"MEAN":1.106,"MIN":1.105}
    ]
  },
  "concat": [
    {
      "width": 318,
      "height": 208,
      "title": "Ch 2: K1:LAS-POW_FIB_OUT_DQ",
      "data": {"name": "p1"},
      "transform": [{"fold": ["MAX", "MEAN", "MIN"], "as": ["series", "value"]}],
      "mark": {"type": "line", "interpolate": "linear", "strokeWidth": 1.7, "clip": true},
      "encoding": {
        "x": {
          "field": "t", "type": "temporal",
          "scale": {"nice": false, "domain": [
            {"year": 2023, "month": 3, "date": 15, "hours": 9, "minutes": 49, "seconds": 17},
            {"year": 2023, "month": 3, "date": 15, "hours": 10, "minutes": 29, "seconds": 2}]},
          "axis": {
            "title": null,
            "values": [
              {"year": 2023, "month": 3, "date": 15, "hours": 9, "minutes": 53, "seconds": 17},
              {"year": 2023, "month": 3, "date": 15, "hours": 9, "minutes": 58, "seconds": 17},
              {"year": 2023, "month": 3, "date": 15, "hours": 10, "minutes": 3, "seconds": 17},
              {"year": 2023, "month": 3, "date": 15, "hours": 10, "minutes": 8, "seconds": 17},
              {"year": 2023, "month": 3, "date": 15, "hours": 10, "minutes": 13, "seconds": 17},
              {"year": 2023, "month": 3, "date": 15, "hours": 10, "minutes": 18, "seconds": 17},
              {"year": 2023, "month": 3, "date": 15, "hours": 10, "minutes": 23, "seconds": 17},
              {"year": 2023, "month": 3, "date": 15, "hours": 10, "minutes": 28, "seconds": 17}],
            "labelExpr": "minutes(datum.value) % 10 == 3 ? timeFormat(datum.value, '%Y-%m-%d %H:%M:%S') : ''",
            "gridDash": {"condition": {"test": "minutes(datum.value) % 10 == 8", "value": [6, 4]}, "value": []}
          }
        },
        "y": {
          "field": "value", "type": "quantitative",
          "scale": {"domain": [6.18, 6.36], "nice": false, "zero": false},
          "axis": {
            "title": "no_conv.",
            "values": [6.2, 6.225, 6.25, 6.275, 6.3, 6.325, 6.35],
            "labelExpr": "abs(datum.value * 20 - round(datum.value * 20)) < 0.01 ? format(datum.value, '~g') : ''",
            "gridDash": {"condition": {"test": "abs(datum.value * 20 - round(datum.value * 20)) > 0.01", "value": [6, 4]}, "value": []}
          }
        },
        "color": {
          "field": "series", "type": "nominal",
          "scale": {"domain": ["MAX", "MEAN", "MIN"], "range": ["#ff0000", "#bc8f8f", "#008000"]},
          "legend": {
            "title": null, "orient": "none", "legendX": -48, "legendY": -74,
            "symbolType": "stroke", "symbolSize": 676, "symbolStrokeWidth": 1.5,
            "labelFont": "Liberation Serif", "labelFontSize": 8.5, "labelColor": "#3b3bff", "labelOffset": 10,
            "padding": 6, "strokeColor": "black", "fillColor": "white",
            "clipHeight": 9, "rowPadding": 3,
            "labelExpr": "datum.label == 'MAX' ? 'M A X' : datum.label == 'MEAN' ? 'M E A N' : 'M I N'"
          }
        }
      }
    },
    {
      "width": 318,
      "height": 208,
      "title": "Ch 10: K1:PSL-PMC_TRANS_DC_OUT_DQ",
      "data": {"name": "p2"},
      "transform": [{"fold": ["MAX", "MEAN", "MIN"], "as": ["series", "value"]}],
      "mark": {"type": "line", "interpolate": "linear", "strokeWidth": 1.7, "clip": true},
      "encoding": {
        "x": {
          "field": "t", "type": "temporal",
          "scale": {"nice": false, "domain": [
            {"year": 2023, "month": 3, "date": 15, "hours": 9, "minutes": 49, "seconds": 17},
            {"year": 2023, "month": 3, "date": 15, "hours": 10, "minutes": 29, "seconds": 2}]},
          "axis": {
            "title": null,
            "values": [
              {"year": 2023, "month": 3, "date": 15, "hours": 9, "minutes": 53, "seconds": 17},
              {"year": 2023, "month": 3, "date": 15, "hours": 9, "minutes": 58, "seconds": 17},
              {"year": 2023, "month": 3, "date": 15, "hours": 10, "minutes": 3, "seconds": 17},
              {"year": 2023, "month": 3, "date": 15, "hours": 10, "minutes": 8, "seconds": 17},
              {"year": 2023, "month": 3, "date": 15, "hours": 10, "minutes": 13, "seconds": 17},
              {"year": 2023, "month": 3, "date": 15, "hours": 10, "minutes": 18, "seconds": 17},
              {"year": 2023, "month": 3, "date": 15, "hours": 10, "minutes": 23, "seconds": 17},
              {"year": 2023, "month": 3, "date": 15, "hours": 10, "minutes": 28, "seconds": 17}],
            "labelExpr": "minutes(datum.value) % 10 == 3 ? timeFormat(datum.value, '%Y-%m-%d %H:%M:%S') : ''",
            "gridDash": {"condition": {"test": "minutes(datum.value) % 10 == 8", "value": [6, 4]}, "value": []}
          }
        },
        "y": {
          "field": "value", "type": "quantitative",
          "scale": {"domain": [6.0, 6.7], "nice": false, "zero": false},
          "axis": {
            "title": "no_conv.",
            "values": [6.0, 6.05, 6.1, 6.15, 6.2, 6.25, 6.3, 6.35, 6.4, 6.45, 6.5, 6.55, 6.6, 6.65, 6.7],
            "labelExpr": "abs(datum.value * 10 - round(datum.value * 10)) < 0.01 ? format(datum.value, '~g') : ''",
            "gridDash": {"condition": {"test": "abs(datum.value * 10 - round(datum.value * 10)) > 0.01", "value": [6, 4]}, "value": []}
          }
        },
        "color": {
          "field": "series", "type": "nominal",
          "scale": {"domain": ["MAX", "MEAN", "MIN"], "range": ["#ff0000", "#bc8f8f", "#008000"]},
          "legend": {
            "title": null, "orient": "none", "legendX": -48, "legendY": -74,
            "symbolType": "stroke", "symbolSize": 676, "symbolStrokeWidth": 1.5,
            "labelFont": "Liberation Serif", "labelFontSize": 8.5, "labelColor": "#3b3bff", "labelOffset": 10,
            "padding": 6, "strokeColor": "black", "fillColor": "white",
            "clipHeight": 9, "rowPadding": 3,
            "labelExpr": "datum.label == 'MAX' ? 'M A X' : datum.label == 'MEAN' ? 'M E A N' : 'M I N'"
          }
        }
      }
    },
    {
      "width": 318,
      "height": 208,
      "title": "Ch 1: K1:PSL-ISS_FIRST_SERVO_PDA_INF_OUT_DQ",
      "data": {"name": "p3"},
      "transform": [{"fold": ["MAX", "MEAN", "MIN"], "as": ["series", "value"]}],
      "mark": {"type": "line", "interpolate": "step-after", "strokeWidth": 1.7, "clip": true},
      "encoding": {
        "x": {
          "field": "t", "type": "temporal",
          "scale": {"nice": false, "domain": [
            {"year": 2023, "month": 3, "date": 15, "hours": 9, "minutes": 49, "seconds": 17},
            {"year": 2023, "month": 3, "date": 15, "hours": 10, "minutes": 29, "seconds": 2}]},
          "axis": {
            "title": null,
            "values": [
              {"year": 2023, "month": 3, "date": 15, "hours": 9, "minutes": 53, "seconds": 17},
              {"year": 2023, "month": 3, "date": 15, "hours": 9, "minutes": 58, "seconds": 17},
              {"year": 2023, "month": 3, "date": 15, "hours": 10, "minutes": 3, "seconds": 17},
              {"year": 2023, "month": 3, "date": 15, "hours": 10, "minutes": 8, "seconds": 17},
              {"year": 2023, "month": 3, "date": 15, "hours": 10, "minutes": 13, "seconds": 17},
              {"year": 2023, "month": 3, "date": 15, "hours": 10, "minutes": 18, "seconds": 17},
              {"year": 2023, "month": 3, "date": 15, "hours": 10, "minutes": 23, "seconds": 17},
              {"year": 2023, "month": 3, "date": 15, "hours": 10, "minutes": 28, "seconds": 17}],
            "labelExpr": "minutes(datum.value) % 10 == 3 ? timeFormat(datum.value, '%Y-%m-%d %H:%M:%S') : ''",
            "gridDash": {"condition": {"test": "minutes(datum.value) % 10 == 8", "value": [6, 4]}, "value": []}
          }
        },
        "y": {
          "field": "value", "type": "quantitative",
          "scale": {"domain": [3.0, 3.4], "nice": false, "zero": false},
          "axis": {
            "title": "no_conv.",
            "values": [3.0, 3.05, 3.1, 3.15, 3.2, 3.25, 3.3, 3.35, 3.4],
            "labelExpr": "abs(datum.value * 10 - round(datum.value * 10)) < 0.01 ? format(datum.value, '~g') : ''",
            "gridDash": {"condition": {"test": "abs(datum.value * 10 - round(datum.value * 10)) > 0.01", "value": [6, 4]}, "value": []}
          }
        },
        "color": {
          "field": "series", "type": "nominal",
          "scale": {"domain": ["MAX", "MEAN", "MIN"], "range": ["#ff0000", "#bc8f8f", "#008000"]},
          "legend": {
            "title": null, "orient": "none", "legendX": -48, "legendY": -74,
            "symbolType": "stroke", "symbolSize": 676, "symbolStrokeWidth": 1.5,
            "labelFont": "Liberation Serif", "labelFontSize": 8.5, "labelColor": "#3b3bff", "labelOffset": 10,
            "padding": 6, "strokeColor": "black", "fillColor": "white",
            "clipHeight": 9, "rowPadding": 3,
            "labelExpr": "datum.label == 'MAX' ? 'M A X' : datum.label == 'MEAN' ? 'M E A N' : 'M I N'"
          }
        }
      }
    },
    {
      "width": 318,
      "height": 208,
      "title": "Ch 3: K1:LAS-POW_IMC_OUT_DQ",
      "data": {"name": "p4"},
      "transform": [{"fold": ["MAX", "MEAN", "MIN"], "as": ["series", "value"]}],
      "mark": {"type": "line", "interpolate": "step-after", "strokeWidth": 1.7, "clip": true},
      "encoding": {
        "x": {
          "field": "t", "type": "temporal",
          "scale": {"nice": false, "domain": [
            {"year": 2023, "month": 3, "date": 15, "hours": 9, "minutes": 49, "seconds": 17},
            {"year": 2023, "month": 3, "date": 15, "hours": 10, "minutes": 29, "seconds": 2}]},
          "axis": {
            "title": null,
            "values": [
              {"year": 2023, "month": 3, "date": 15, "hours": 9, "minutes": 53, "seconds": 17},
              {"year": 2023, "month": 3, "date": 15, "hours": 9, "minutes": 58, "seconds": 17},
              {"year": 2023, "month": 3, "date": 15, "hours": 10, "minutes": 3, "seconds": 17},
              {"year": 2023, "month": 3, "date": 15, "hours": 10, "minutes": 8, "seconds": 17},
              {"year": 2023, "month": 3, "date": 15, "hours": 10, "minutes": 13, "seconds": 17},
              {"year": 2023, "month": 3, "date": 15, "hours": 10, "minutes": 18, "seconds": 17},
              {"year": 2023, "month": 3, "date": 15, "hours": 10, "minutes": 23, "seconds": 17},
              {"year": 2023, "month": 3, "date": 15, "hours": 10, "minutes": 28, "seconds": 17}],
            "labelExpr": "minutes(datum.value) % 10 == 3 ? timeFormat(datum.value, '%Y-%m-%d %H:%M:%S') : ''",
            "gridDash": {"condition": {"test": "minutes(datum.value) % 10 == 8", "value": [6, 4]}, "value": []}
          }
        },
        "y": {
          "field": "value", "type": "quantitative",
          "scale": {"domain": [1.0, 1.2], "nice": false, "zero": false},
          "axis": {
            "title": "no_conv.",
            "values": [1.0, 1.025, 1.05, 1.075, 1.1, 1.125, 1.15, 1.175, 1.2],
            "labelExpr": "abs(datum.value * 20 - round(datum.value * 20)) < 0.01 ? format(datum.value, '~g') : ''",
            "gridDash": {"condition": {"test": "abs(datum.value * 20 - round(datum.value * 20)) > 0.01", "value": [6, 4]}, "value": []}
          }
        },
        "color": {
          "field": "series", "type": "nominal",
          "scale": {"domain": ["MAX", "MEAN", "MIN"], "range": ["#ff0000", "#bc8f8f", "#008000"]},
          "legend": {
            "title": null, "orient": "none", "legendX": -48, "legendY": -74,
            "symbolType": "stroke", "symbolSize": 676, "symbolStrokeWidth": 1.5,
            "labelFont": "Liberation Serif", "labelFontSize": 8.5, "labelColor": "#3b3bff", "labelOffset": 10,
            "padding": 6, "strokeColor": "black", "fillColor": "white",
            "clipHeight": 9, "rowPadding": 3,
            "labelExpr": "datum.label == 'MAX' ? 'M A X' : datum.label == 'MEAN' ? 'M E A N' : 'M I N'"
          }
        }
      }
    }
  ],
  "config": {
    "font": "Liberation Serif",
    "view": {"fill": "white", "stroke": "black", "strokeWidth": 1.5},
    "axis": {
      "domain": false, "ticks": false, "grid": true,
      "gridColor": "#d3d3d3", "gridWidth": 1.2,
      "labelFont": "Liberation Serif", "labelColor": "black",
      "labelFlush": false, "labelOverlap": false, "labelBound": false
    },
    "axisX": {"labelFontSize": 7, "labelPadding": 4, "labelAngle": 0},
    "axisY": {
      "labelFontSize": 10, "labelPadding": 7,
      "titleFont": "Liberation Sans", "titleFontSize": 14, "titleFontWeight": "normal",
      "titleColor": "black", "titlePadding": 8
    },
    "title": {
      "font": "Liberation Serif", "fontStyle": "italic", "fontWeight": "normal",
      "fontSize": 12, "color": "black", "offset": 8.5
    }
  }
}
